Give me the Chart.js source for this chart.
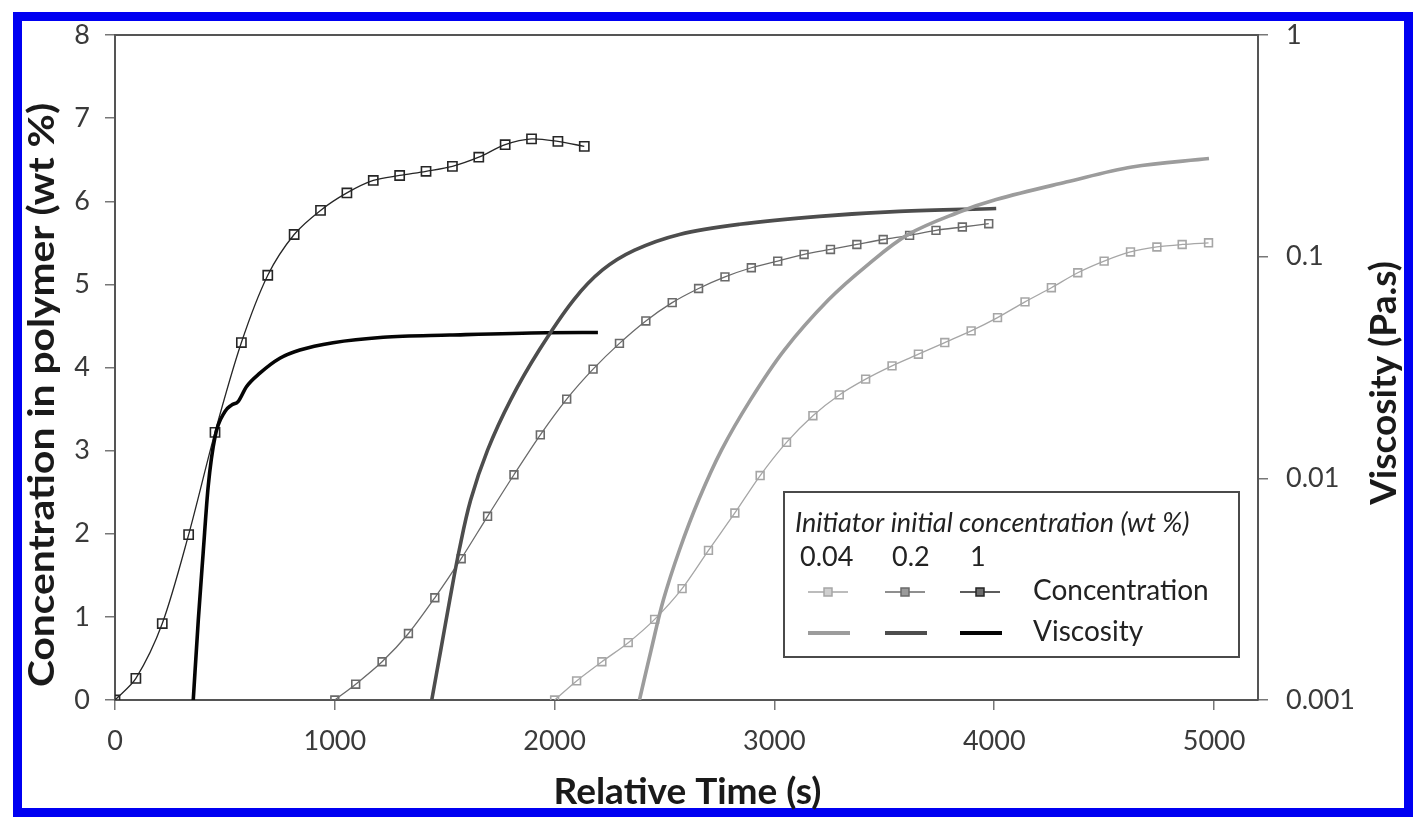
<!DOCTYPE html>
<html>
<head>
<meta charset="utf-8">
<script src="https://cdn.jsdelivr.net/npm/chart.js@4.4.1/dist/chart.umd.min.js"></script>
<style>
  html, body { margin: 0; padding: 0; background: #fff; }
  #frame { position: absolute; left: 13px; top: 12px; width: 1382px; height: 787px; border: 9px solid #0000f2; }
  #chart { position: absolute; left: 0; top: 0; }
</style>
</head>
<body>
<div id="frame"></div>
<canvas id="chart" width="1419" height="820"></canvas>
<script>
// concentration in polymer (wt %), left axis
const timeC1 = [0, 95, 215, 335, 455, 575, 695, 815, 935, 1055, 1175, 1295, 1415, 1535, 1655, 1775, 1895, 2015, 2135];
const conc1 = [0, 0.26, 0.92, 1.99, 3.22, 4.30, 5.11, 5.60, 5.89, 6.10, 6.25, 6.31, 6.36, 6.42, 6.53, 6.68, 6.75, 6.72, 6.66];

const timeC02 = [1000, 1095, 1215, 1335, 1455, 1575, 1695, 1815, 1935, 2055, 2175, 2295, 2415, 2535, 2655, 2775, 2895, 3015, 3135, 3255, 3375, 3495, 3615, 3735, 3855, 3975];
const conc02 = [0, 0.19, 0.46, 0.80, 1.23, 1.70, 2.21, 2.71, 3.19, 3.62, 3.98, 4.29, 4.56, 4.78, 4.95, 5.09, 5.20, 5.28, 5.36, 5.42, 5.48, 5.54, 5.59, 5.65, 5.69, 5.73];

const timeC004 = [2000, 2100, 2215, 2335, 2455, 2580, 2700, 2820, 2935, 3055, 3175, 3295, 3415, 3535, 3655, 3775, 3895, 4015, 4140, 4260, 4380, 4500, 4620, 4740, 4855, 4975];
const conc004 = [0, 0.23, 0.46, 0.69, 0.97, 1.34, 1.80, 2.25, 2.70, 3.10, 3.42, 3.67, 3.86, 4.02, 4.16, 4.30, 4.44, 4.60, 4.79, 4.96, 5.14, 5.28, 5.39, 5.45, 5.48, 5.50];

// viscosity (Pa.s), right log axis
const timeV1 = [356, 379, 401, 424, 455, 500, 530, 560, 598, 659, 750, 841, 992, 1220, 1523, 1962, 2197];
const visc1 = [0.001, 0.0023, 0.0046, 0.0092, 0.0154, 0.0200, 0.0214, 0.0222, 0.0259, 0.0298, 0.0348, 0.0379, 0.0409, 0.0433, 0.0443, 0.0454, 0.0455];

const timeV02 = [1441, 1482, 1523, 1566, 1618, 1695, 1800, 1930, 2086, 2218, 2364, 2568, 2841, 3205, 3568, 4009];
const visc02 = [0.001, 0.00168, 0.00283, 0.00475, 0.00798, 0.0134, 0.0226, 0.0379, 0.0637, 0.0871, 0.107, 0.126, 0.140, 0.152, 0.160, 0.165];

const timeV004 = [2386, 2439, 2495, 2568, 2655, 2759, 2891, 3045, 3245, 3423, 3609, 3841, 4009, 4327, 4627, 4977];
const visc004 = [0.001, 0.00168, 0.00283, 0.00475, 0.00798, 0.0134, 0.0226, 0.0379, 0.0637, 0.0916, 0.126, 0.159, 0.181, 0.217, 0.254, 0.277];

const xTicks = [0, 1000, 2000, 3000, 4000, 5000];
const viscTicks = [0.001, 0.01, 0.1, 1];
const levels = ['0.04', '0.2', '1'];

const FONT = 'Lato';
const markColor = ['#a6a6a6', '#6a6a6a', '#262626'];
const markFill = ['#cfcfcf', '#9a9a9a', '#6e6e6e'];
const viscColor = ['#9c9c9c', '#4d4d4d', '#050505'];

const zip = (xs, ys) => xs.map((x, i) => ({ x, y: ys[i] }));

function concSet(label, xs, ys, color, r) {
  return {
    label, data: zip(xs, ys), yAxisID: 'y',
    borderColor: color, borderWidth: 1.3, tension: 0.3,
    pointStyle: 'rect', pointRadius: r, pointBorderColor: color,
    pointBackgroundColor: 'rgba(0,0,0,0)', pointBorderWidth: 1.6
  };
}

function viscSet(label, xs, ys, color, smooth) {
  const ds = {
    label, data: zip(xs, ys), yAxisID: 'y2',
    borderColor: color, borderWidth: 3.6, pointRadius: 0
  };
  if (smooth) ds.tension = 0.35;
  else ds.cubicInterpolationMode = 'monotone';
  return ds;
}

function drawLegend(ctx, a) {
  const L = a.left + 669, T = a.top + 457, W = 455, H = 165;
  ctx.fillStyle = '#fff';
  ctx.fillRect(L, T, W, H);
  ctx.strokeStyle = '#4a4a4a';
  ctx.lineWidth = 2;
  ctx.strokeRect(L, T, W, H);

  ctx.fillStyle = '#222';
  ctx.textBaseline = 'middle';
  ctx.textAlign = 'left';
  ctx.font = `italic 27px ${FONT}`;
  ctx.fillText('Initiator initial concentration (wt %)', L + 11, T + 31);

  ctx.font = `27px ${FONT}`;
  const numX = [L + 16, L + 108, L + 186];
  levels.forEach((lv, i) => ctx.fillText(lv, numX[i], T + 65));

  const colX = [L + 24, L + 101, L + 176];
  colX.forEach((cx, i) => {
    ctx.strokeStyle = markColor[i];
    ctx.lineWidth = 1.5;
    ctx.beginPath(); ctx.moveTo(cx, T + 100); ctx.lineTo(cx + 40, T + 100); ctx.stroke();
    ctx.fillStyle = markFill[i];
    ctx.fillRect(cx + 16, T + 96, 8, 8);
    ctx.strokeRect(cx + 16, T + 96, 8, 8);
    ctx.strokeStyle = viscColor[i];
    ctx.lineWidth = 4;
    ctx.beginPath(); ctx.moveTo(cx, T + 141); ctx.lineTo(cx + 42, T + 141); ctx.stroke();
  });

  ctx.fillStyle = '#222';
  ctx.font = `28px ${FONT}`;
  ctx.fillText('Concentration', L + 249, T + 99);
  ctx.fillText('Viscosity', L + 249, T + 140);
}

function drawTitle(ctx, text, x, y, rot, stretch) {
  ctx.save();
  ctx.translate(x, y);
  ctx.rotate(rot);
  ctx.scale(stretch, 1);
  ctx.font = `bold 37px ${FONT}`;
  ctx.textAlign = 'center';
  ctx.textBaseline = 'middle';
  ctx.fillStyle = '#1a1a1a';
  ctx.fillText(text, 0, 0);
  ctx.restore();
}

const overlay = {
  id: 'overlay',
  afterDraw(chart) {
    const { ctx, chartArea: a } = chart;
    ctx.save();
    ctx.strokeStyle = '#555';
    ctx.lineWidth = 2;
    ctx.beginPath(); ctx.moveTo(a.left, a.top); ctx.lineTo(a.right, a.top); ctx.stroke();

    drawTitle(ctx, 'Relative Time (s)', (a.left + a.right) / 2 + 1, 792, 0, 1);
    drawTitle(ctx, 'Concentration in polymer (wt %)', 42, 395, -Math.PI / 2, 1.1);
    drawTitle(ctx, 'Viscosity (Pa.s)', 1384, 383, -Math.PI / 2, 1);

    drawLegend(ctx, a);
    ctx.restore();
  }
};

const tickFont = { family: FONT, size: 27 };
const axisGrid = { drawOnChartArea: false, drawTicks: true, tickLength: 10, color: '#777', lineWidth: 1.5 };
const axisBorder = { color: '#555', width: 2 };

new Chart(document.getElementById('chart').getContext('2d'), {
  type: 'line',
  data: {
    datasets: [
      viscSet('Viscosity 0.04', timeV004, visc004, viscColor[0], true),
      viscSet('Viscosity 0.2', timeV02, visc02, viscColor[1], true),
      viscSet('Viscosity 1', timeV1, visc1, viscColor[2], false),
      concSet('Concentration 0.04', timeC004, conc004, markColor[0], 5.5),
      concSet('Concentration 0.2', timeC02, conc02, markColor[1], 5.5),
      concSet('Concentration 1', timeC1, conc1, markColor[2], 6.5)
    ]
  },
  options: {
    responsive: false,
    animation: false,
    layout: { padding: { top: 35, left: 0, right: 0, bottom: 0 } },
    plugins: { legend: { display: false }, tooltip: { enabled: false } },
    scales: {
      x: {
        type: 'linear', min: 0, max: 5200,
        afterBuildTicks: s => { s.ticks = xTicks.map(v => ({ value: v })); },
        afterFit: s => { s.height = 120; },
        grid: axisGrid, border: axisBorder,
        ticks: { font: tickFont, color: '#3a3a3a', padding: 15, maxRotation: 0, autoSkip: false, callback: v => String(v) }
      },
      y: {
        position: 'left', min: 0, max: 8,
        afterFit: s => { s.width = 115; },
        grid: axisGrid, border: axisBorder,
        ticks: { stepSize: 1, font: tickFont, color: '#3a3a3a', padding: 15 }
      },
      y2: {
        type: 'logarithmic', position: 'right', min: 0.001, max: 1,
        afterBuildTicks: s => { s.ticks = viscTicks.map(v => ({ value: v })); },
        afterFit: s => { s.width = 161; },
        grid: axisGrid, border: axisBorder,
        ticks: { font: tickFont, color: '#3a3a3a', padding: 18, autoSkip: false, callback: v => String(v) }
      }
    }
  },
  plugins: [overlay]
});
</script>
</body>
</html>
